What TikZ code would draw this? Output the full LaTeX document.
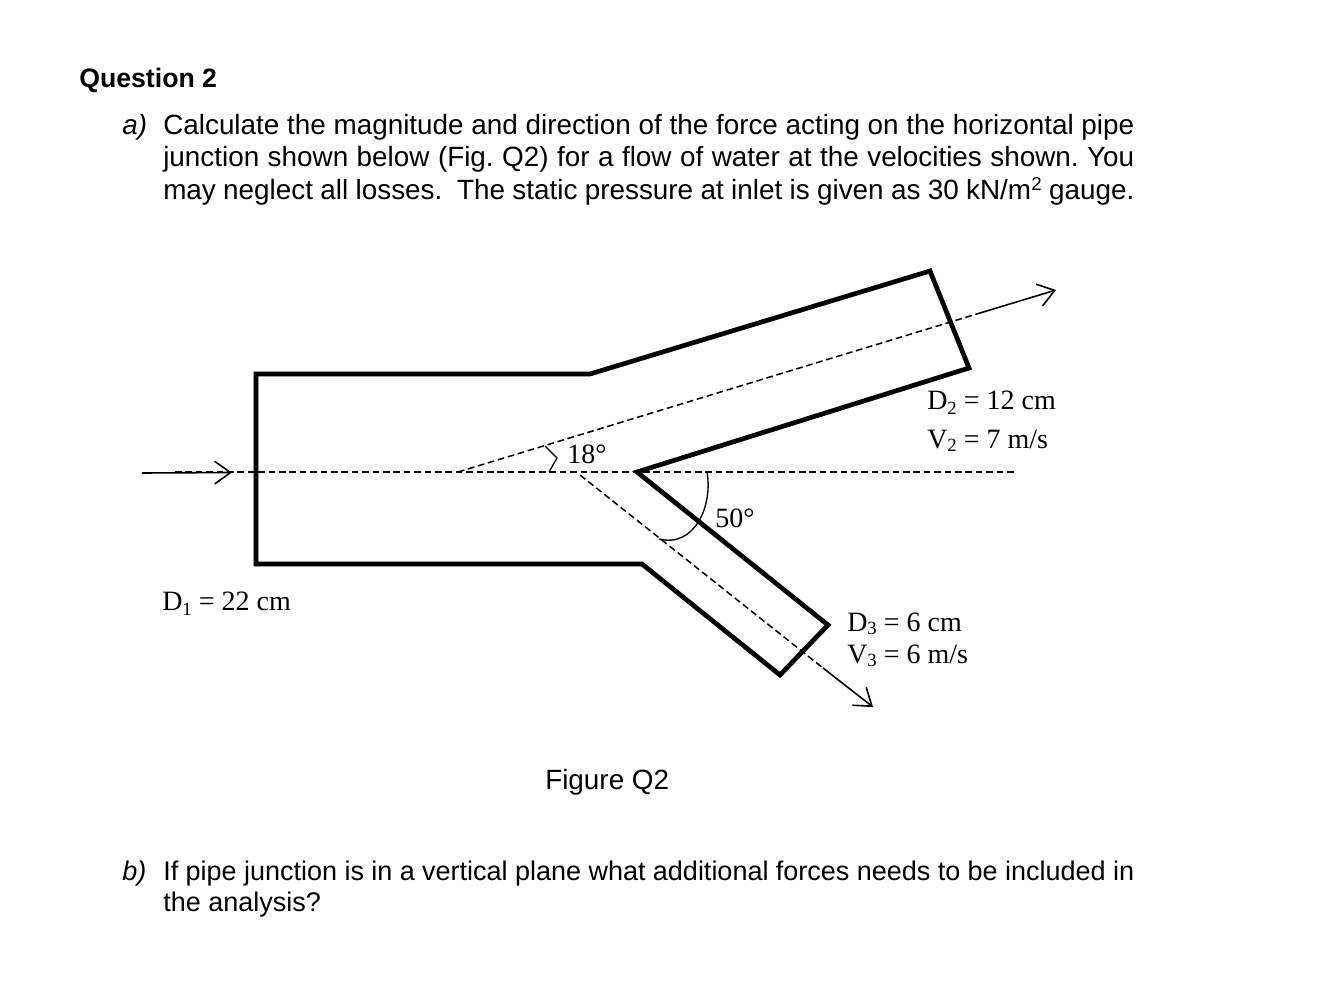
\documentclass[tikz,border=0pt]{standalone}
\usepackage{fontspec}
\setmainfont{Liberation Serif}
\newfontfamily\hv{Liberation Sans}
\usetikzlibrary{arrows.meta}
\newcommand{\supm}{\raisebox{6.5pt}{\fontsize{14}{14}\selectfont 2}}
\newcommand{\subn}[2]{\raisebox{#1}{\fontsize{14}{14}\selectfont #2}}
\newcommand{\fullline}[1]{\hbox to 728.25pt{\frenchspacing #1}}
\tikzset{
 pipe/.style={line width=3.5pt,line join=miter,line cap=butt,black},
 pipeshadow/.style={line width=3.5pt,black!30,opacity=.55},
 axis/.style={line width=1.15pt,dash pattern=on 5pt off 2.8pt,black},
 flow/.style={line width=1.2pt,-{Straight Barb[length=12pt,width=17pt,line width=1.2pt]}},
 thin mark/.style={line width=1pt},
 body/.style={font=\hv\fontsize{20.9}{20.9}\selectfont,anchor=base west,inner sep=0pt,text=black},
 bodyb/.style={font=\hv\fontsize{20.25}{20.25}\selectfont,anchor=base west,inner sep=0pt,text=black},
 lab/.style={font=\fontsize{21}{21}\selectfont,anchor=base west,inner sep=0pt,text=black},
}
\begin{document}
\begin{tikzpicture}[x=.75pt,y=-.75pt]
\useasboundingbox (0,0) rectangle (1321,996);
\fill[white] (0,0) rectangle (1321,996);
% text
\node[body,font=\hv\bfseries\fontsize{20}{20}\selectfont] (title) at (79,87) {Question 2};
\node[body,font=\hv\itshape\fontsize{20.9}{20.9}\selectfont] (am) at (122,134.5) {a)};
\node[body] (a1) at (163,134.5) {\fullline{Calculate the magnitude and direction of the force acting on the horizontal pipe}};
\node[body] (a2) at (163,166.5) {\fullline{junction shown below (Fig. Q2) for a flow of water at the velocities shown. You}};
\node[body] (a3) at (163,199.5) {\fullline{may neglect all losses.\ \ The static pressure at inlet is given as 30 kN/m\supm\ gauge.}};
\node[body] (fig) at (545,789.5) {Figure Q2};
\node[bodyb,font=\hv\itshape\fontsize{20.25}{20.25}\selectfont] (bm) at (122,880.5) {b)};
\node[bodyb] (b1) at (163,880.5) {\fullline{If pipe junction is in a vertical plane what additional forces needs to be included in}};
\node[bodyb] (b2) at (163,911.5) {the analysis?};
% coordinates
\coordinate (tl) at (256,374);
\coordinate (bl) at (256,564);
\coordinate (bj) at (642,564);
\coordinate (e3a) at (780,675);
\coordinate (e3b) at (828,625);
\coordinate (crotch) at (637,472);
\coordinate (e2a) at (969,368);
\coordinate (e2b) at (930,271);
\coordinate (tj) at (590,374);
% shadow
\draw[pipeshadow,shift={(1.5,3)}] (tj)--(tl)--(bl)--(bj)--(e3a)--(e3b)--(crotch)--(e2a)--(e2b)--cycle;
% axes
\coordinate (h0) at (175,472);
\coordinate (h1) at (1016,472);
\coordinate (o2) at (458,472);
\coordinate (s2) at (980,313);
\coordinate (t2) at (1056,290);
\coordinate (o3) at (580,475);
\coordinate (s3) at (823,668);
\coordinate (t3) at (873,707);
\coordinate (in0) at (142,473);
\coordinate (in1) at (232,472.5);
\draw[axis] (h0)--(h1);
\draw[axis] (o2)--(s2);
\draw[axis] (o3)--(s3);
\draw[flow] (in0)--(in1);
\draw[flow] (s2)--(t2);
\draw[flow] (s3)--(t3);
% pipe
\draw[pipe] (tj)--(tl)--(bl)--(bj)--(e3a)--(e3b)--(crotch)--(e2a)--(e2b)--cycle;
% angle marks
\coordinate (m1) at (545,446);
\coordinate (m2) at (557,458);
\coordinate (m3) at (549,472);
\draw[thin mark] (m1)--(m2)--(m3);
\coordinate (k1) at (707,472);
\coordinate (k2) at (659,539);
\draw[thin mark] (k1) .. controls (713,505) and (695,548) .. (k2);
% labels
\node[lab] (l18) at (567,463.5) {18°};
\node[lab] (l50) at (715,527.5) {50°};
\node[lab] (d1) at (162,610.5) {D\subn{-4pt}{1} = 22 cm};
\node[lab] (d2) at (927,409.5) {D\subn{-4pt}{2} = 12 cm};
\node[lab] (v2) at (927,448.5) {V\subn{-2pt}{2} = 7 m/s};
\node[lab] (d3) at (847,631.5) {D\subn{-2pt}{3} = 6 cm};
\node[lab] (v3) at (847,663.5) {V\subn{-2pt}{3} = 6 m/s};
\end{tikzpicture}
\end{document}
